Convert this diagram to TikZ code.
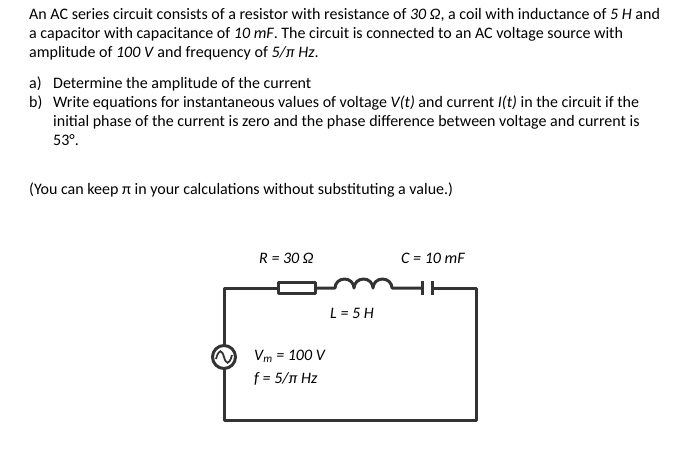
\documentclass[tikz,border=0pt]{standalone}
\usepackage{fontspec}
\setmainfont{Carlito}
\begin{document}
\begin{tikzpicture}[x=1pt,y=-1pt,
  txt/.style={anchor=base west,inner sep=0pt,font=\fontsize{16}{18}\selectfont},
  lbl/.style={anchor=base west,inner sep=0pt,font=\fontsize{16}{18}\selectfont\itshape},
  wire/.style={line width=3pt,draw=black!80,line join=round}]
\useasboundingbox (0,0) rectangle (695,455);
\node[txt] (l1) at (29,19) {An AC series circuit consists of a resistor with resistance of \textit{30 Ω}, a coil with inductance of \textit{5 H} and};
\node[txt] (l2) at (29,38) {a capacitor with capacitance of \textit{10 mF}. The circuit is connected to an AC voltage source with};
\node[txt] (l3) at (29,57) {amplitude of \textit{100 V} and frequency of \textit{5/π Hz}.};
\node[txt] (la) at (29,88) {a)};
\node[txt] (la2) at (53,88) {Determine the amplitude of the current};
\node[txt] (lb) at (29,107) {b)};
\node[txt] (lb2) at (53,107) {Write equations for instantaneous values of voltage \textit{V(t)} and current \textit{I(t)} in the circuit if the};
\node[txt] (lb3) at (53,126) {initial phase of the current is zero and the phase difference between voltage and current is};
\node[txt] (lb4) at (53,145) {53°.};
\node[txt] (lc) at (29,194) {(You can keep π in your calculations without substituting a value.)};
% circuit
\draw[wire] (224,345) -- (224,288) -- (279,288);
\node[wire,draw,rectangle,minimum width=37pt,minimum height=11pt,inner sep=0pt] (R) at (297,288) {};
\draw[wire] (R.east) -- (335,288)
  arc(180:360:9.5 and 9) arc(180:360:9.5 and 9) arc(180:360:9.5 and 9) -- (422,288);
\draw[wire] (422,281) -- (422,295);
\draw[wire] (432,281) -- (432,295);
\draw[wire] (432,288) -- (476,288) -- (476,420) -- (224,420) -- (224,369);
\node[wire,draw,circle,minimum size=23pt,inner sep=0pt] (S) at (224,357) {};
\draw[line width=1.8pt,draw=black!80] (216,359) .. controls (219,348) and (222,350) .. (224,357) .. controls (226,364) and (229,366) .. (232,355);
\node[lbl] (tR) at (259,263) {R = 30 Ω};
\node[lbl] (tC) at (401,263) {C = 10 mF};
\node[lbl] (tL) at (330,318) {L = 5 H};
\node[lbl] (tV) at (254,360) {V\textsubscript{m} = 100 V};
\node[lbl] (tf) at (254,383) {f = 5/π Hz};
\end{tikzpicture}
\end{document}
